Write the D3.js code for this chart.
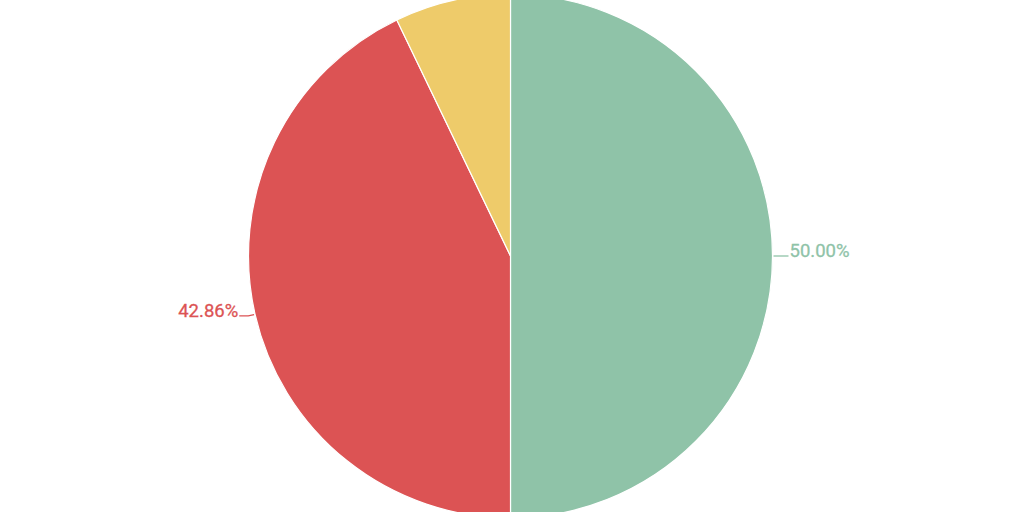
<!DOCTYPE html>
<html>
<head>
<meta charset="utf-8">
<script src="https://cdn.jsdelivr.net/npm/d3@7"></script>
<style>
  html, body { margin: 0; padding: 0; background: #fff; overflow: hidden; }
  svg { display: block; }
</style>
</head>
<body>
<svg id="chart" width="1024" height="512"></svg>
<script>
// slice data, clockwise from 12 o'clock
const names = ['A', 'B', 'C'];
const values = [7, 6, 1];
const colors = ['#8fc3a8', '#dc5354', '#eecb6a'];

const width = 1024;
const height = 512;
const radius = 262;
const cx = 510.5;
const cy = 256;

const svg = d3.select('#chart');
const g = svg.append('g')
    .attr('transform', `translate(${cx},${cy})`);

const total = d3.sum(values);
const pie = d3.pie().sort(null).value((d) => d.value);
const arcs = pie(names.map((n, i) => ({name: n, value: values[i], color: colors[i]})));

const arc = d3.arc().innerRadius(0).outerRadius(radius);

g.append('g')
    .selectAll('path')
    .data(arcs)
    .join('path')
    .attr('d', arc)
    .attr('fill', (d) => d.data.color)
    .attr('stroke', '#fff')
    .attr('stroke-width', 1.2)
    .attr('stroke-linejoin', 'round');

// leader lines (short radial piece, then horizontal) + percentage labels
const len1 = 7;
const len2 = 9;
const labels = g.append('g')
    .attr('font-family', 'Roboto, sans-serif')
    .attr('font-size', 18.5);

arcs.forEach((d) => {
  const mid = (d.startAngle + d.endAngle) / 2;
  const sx = Math.sin(mid);
  const sy = -Math.cos(mid);
  const right = sx >= 0;
  const p0 = [sx * (radius + 1), sy * (radius + 1)];
  const p1 = [sx * (radius + len1), sy * (radius + len1)];
  const p2 = [p1[0] + (right ? len2 : -len2), p1[1]];
  // a label whose anchor falls off the canvas is not drawn (as in the source)
  if (cy + p2[1] < 10 || cy + p2[1] > height - 4) return;
  labels.append('path')
      .attr('d', d3.line()([p0, p1, p2]))
      .attr('fill', 'none')
      .attr('stroke', d.data.color)
      .attr('stroke-width', 1.3);
  labels.append('text')
      .attr('x', p2[0] + (right ? 1 : -1))
      .attr('y', p2[1])
      .attr('dy', '0.05em')
      .attr('text-anchor', right ? 'start' : 'end')
      .attr('fill', d.data.color)
      .attr('stroke', d.data.color)
      .attr('stroke-width', 0.3)
      .text((d.data.value / total * 100).toFixed(2) + '%');
});
</script>
</body>
</html>
